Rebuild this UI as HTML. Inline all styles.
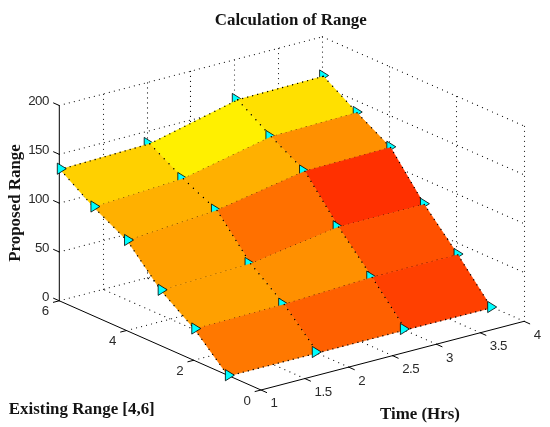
<!DOCTYPE html>
<html lang="en"><head><meta charset="utf-8"><title>Calculation of Range</title>
<style>html,body{margin:0;padding:0;background:#fff}svg{display:block}</style>
</head><body>
<svg width="550" height="427" viewBox="0 0 550 427">
<rect width="550" height="427" fill="#fff"/>
<g stroke="#111" stroke-width="1.2" fill="none" stroke-linecap="round">
<line x1="304.85" y1="378.55" x2="103.15" y2="289.35" stroke-dasharray="0.01 5.46"/>
<line x1="103.5" y1="289.35" x2="103.5" y2="94.05" stroke-dasharray="0.01 4.99"/>
<line x1="348.7" y1="367.1" x2="147" y2="277.9" stroke-dasharray="0.01 5.46"/>
<line x1="147.5" y1="277.9" x2="147.5" y2="82.6" stroke-dasharray="0.01 4.99"/>
<line x1="392.55" y1="355.65" x2="190.85" y2="266.45" stroke-dasharray="0.01 5.46"/>
<line x1="190.5" y1="266.45" x2="190.5" y2="71.15" stroke-dasharray="0.01 4.99"/>
<line x1="436.4" y1="344.2" x2="234.7" y2="255" stroke-dasharray="0.01 5.46"/>
<line x1="234.5" y1="255" x2="234.5" y2="59.7" stroke-dasharray="0.01 4.99"/>
<line x1="480.25" y1="332.75" x2="278.55" y2="243.55" stroke-dasharray="0.01 5.46"/>
<line x1="278.5" y1="243.55" x2="278.5" y2="48.25" stroke-dasharray="0.01 4.99"/>
<line x1="524.1" y1="321.3" x2="322.4" y2="232.1" stroke-dasharray="0.01 5.46"/>
<line x1="322.5" y1="232.1" x2="322.5" y2="36.8" stroke-dasharray="0.01 4.99"/>
<line x1="524.5" y1="321.3" x2="524.5" y2="126" stroke-dasharray="0.01 4.99"/>
<line x1="193.77" y1="360.27" x2="456.87" y2="291.57" stroke-dasharray="0.01 5.16"/>
<line x1="456.5" y1="291.57" x2="456.5" y2="96.27" stroke-dasharray="0.01 4.99"/>
<line x1="126.53" y1="330.53" x2="389.63" y2="261.83" stroke-dasharray="0.01 5.16"/>
<line x1="389.5" y1="261.83" x2="389.5" y2="66.53" stroke-dasharray="0.01 4.99"/>
<line x1="59.3" y1="300.8" x2="322.4" y2="232.1" stroke-dasharray="0.01 5.16"/>
<line x1="59.3" y1="251.98" x2="322.4" y2="183.28" stroke-dasharray="0.01 5.16"/>
<line x1="322.4" y1="183.28" x2="524.1" y2="272.48" stroke-dasharray="0.01 5.46"/>
<line x1="59.3" y1="203.15" x2="322.4" y2="134.45" stroke-dasharray="0.01 5.16"/>
<line x1="322.4" y1="134.45" x2="524.1" y2="223.65" stroke-dasharray="0.01 5.46"/>
<line x1="59.3" y1="154.33" x2="322.4" y2="85.63" stroke-dasharray="0.01 5.16"/>
<line x1="322.4" y1="85.63" x2="524.1" y2="174.83" stroke-dasharray="0.01 5.46"/>
<line x1="59.3" y1="105.5" x2="322.4" y2="36.8" stroke-dasharray="0.01 5.16"/>
<line x1="322.4" y1="36.8" x2="524.1" y2="126" stroke-dasharray="0.01 5.46"/>
</g>
<g stroke="#000" stroke-width="1" fill="none">
<line x1="59.3" y1="300.8" x2="59.3" y2="105.5"/>
<line x1="59.3" y1="300.8" x2="261" y2="390"/>
<line x1="261" y1="390" x2="524.1" y2="321.3"/>
<line x1="59.3" y1="300.8" x2="53.2" y2="298.1"/>
<line x1="59.3" y1="251.98" x2="53.2" y2="249.28"/>
<line x1="59.3" y1="203.15" x2="53.2" y2="200.45"/>
<line x1="59.3" y1="154.33" x2="53.2" y2="151.63"/>
<line x1="59.3" y1="105.5" x2="53.2" y2="102.8"/>
<line x1="261" y1="390" x2="254.7" y2="391.6"/>
<line x1="193.77" y1="360.27" x2="187.47" y2="361.87"/>
<line x1="126.53" y1="330.53" x2="120.23" y2="332.13"/>
<line x1="59.3" y1="300.8" x2="53" y2="302.4"/>
<line x1="261" y1="390" x2="267" y2="392.7"/>
<line x1="304.85" y1="378.55" x2="310.85" y2="381.25"/>
<line x1="348.7" y1="367.1" x2="354.7" y2="369.8"/>
<line x1="392.55" y1="355.65" x2="398.55" y2="358.35"/>
<line x1="436.4" y1="344.2" x2="442.4" y2="346.9"/>
<line x1="480.25" y1="332.75" x2="486.25" y2="335.45"/>
<line x1="524.1" y1="321.3" x2="530.1" y2="324"/>
</g>
<g font-family="'Liberation Sans', Arial, Helvetica, sans-serif" font-size="13.3" letter-spacing="-0.45" fill="#2a2a2a">
<text x="49.0" y="300.5" text-anchor="end">0</text>
<text x="49.0" y="251.68" text-anchor="end">50</text>
<text x="49.0" y="202.85" text-anchor="end">100</text>
<text x="49.0" y="154.03" text-anchor="end">150</text>
<text x="49.0" y="105.2" text-anchor="end">200</text>
<text x="250.5" y="404.6" text-anchor="end">0</text>
<text x="183.27" y="374.87" text-anchor="end">2</text>
<text x="116.03" y="345.13" text-anchor="end">4</text>
<text x="48.8" y="315.4" text-anchor="end">6</text>
<text x="270.6" y="407.4">1</text>
<text x="314.45" y="395.95">1.5</text>
<text x="358.3" y="384.5">2</text>
<text x="402.15" y="373.05">2.5</text>
<text x="446" y="361.6">3</text>
<text x="489.85" y="350.15">3.5</text>
<text x="533.7" y="338.7">4</text>
</g>
<polygon points="144.2,137.4 144.2,148.6 153.2,143" fill="#00FFFF" stroke="#000" stroke-width="0.8" stroke-linejoin="miter"/>
<polygon points="232.3,93.4 232.3,104.6 241.3,99" fill="#00FFFF" stroke="#000" stroke-width="0.8" stroke-linejoin="miter"/>
<polygon points="319.6,69.9 319.6,81.1 328.6,75.5" fill="#00FFFF" stroke="#000" stroke-width="0.8" stroke-linejoin="miter"/>
<polygon points="271.32,136.8 357.02,112.8 323.4,76.3 237.7,99.8" fill="#FFE000" stroke="#FFE000" stroke-width="0.6"/>
<polygon points="183.42,178.8 271.32,136.8 237.7,99.8 149.8,143.8" fill="#FFF000" stroke="#FFF000" stroke-width="0.6"/>
<polygon points="93.82,207.3 183.42,178.8 149.8,143.8 60.2,169.5" fill="#FFD000" stroke="#FFD000" stroke-width="0.6"/>
<g stroke="#000" stroke-width="1.4" stroke-linecap="round" fill="none">
<line x1="60.2" y1="169.5" x2="149.8" y2="143.8" stroke-dasharray="0.01 5.19"/>
<line x1="93.82" y1="207.3" x2="183.42" y2="178.8" stroke-dasharray="0.01 5.24"/>
<line x1="149.8" y1="143.8" x2="237.7" y2="99.8" stroke-dasharray="0.01 5.58"/>
<line x1="183.42" y1="178.8" x2="271.32" y2="136.8" stroke-dasharray="0.01 5.53"/>
<line x1="237.7" y1="99.8" x2="323.4" y2="76.3" stroke-dasharray="0.01 5.17"/>
<line x1="271.32" y1="136.8" x2="357.02" y2="112.8" stroke-dasharray="0.01 5.18"/>
<line x1="60.2" y1="169.5" x2="93.82" y2="207.3" stroke-dasharray="0.01 6.68"/>
<line x1="149.8" y1="143.8" x2="183.42" y2="178.8" stroke-dasharray="0.01 6.92"/>
<line x1="237.7" y1="99.8" x2="271.32" y2="136.8" stroke-dasharray="0.01 6.75"/>
<line x1="323.4" y1="76.3" x2="357.02" y2="112.8" stroke-dasharray="0.01 6.79"/>
</g>
<polygon points="177.82,172.4 177.82,183.6 186.82,178" fill="#00FFFF" stroke="#000" stroke-width="0.8" stroke-linejoin="miter"/>
<polygon points="265.92,130.4 265.92,141.6 274.92,136" fill="#00FFFF" stroke="#000" stroke-width="0.8" stroke-linejoin="miter"/>
<polygon points="353.22,106.4 353.22,117.6 362.22,112" fill="#00FFFF" stroke="#000" stroke-width="0.8" stroke-linejoin="miter"/>
<polygon points="304.93,171.3 390.63,147.6 357.02,112.8 271.32,136.8" fill="#FF9000" stroke="#FF9000" stroke-width="0.6"/>
<polygon points="217.03,210.4 304.93,171.3 271.32,136.8 183.42,178.8" fill="#FFB000" stroke="#FFB000" stroke-width="0.6"/>
<polygon points="127.43,240.8 217.03,210.4 183.42,178.8 93.82,207.3" fill="#FFB000" stroke="#FFB000" stroke-width="0.6"/>
<g stroke="#000" stroke-width="1.4" stroke-linecap="round" fill="none">
<line x1="127.43" y1="240.8" x2="217.03" y2="210.4" stroke-dasharray="0.01 5.27"/>
<line x1="217.03" y1="210.4" x2="304.93" y2="171.3" stroke-dasharray="0.01 5.46"/>
<line x1="304.93" y1="171.3" x2="390.63" y2="147.6" stroke-dasharray="0.01 5.18"/>
<line x1="93.82" y1="207.3" x2="127.43" y2="240.8" stroke-dasharray="0.01 7.05"/>
<line x1="183.42" y1="178.8" x2="217.03" y2="210.4" stroke-dasharray="0.01 6.85"/>
<line x1="271.32" y1="136.8" x2="304.93" y2="171.3" stroke-dasharray="0.01 6.97"/>
<line x1="357.02" y1="112.8" x2="390.63" y2="147.6" stroke-dasharray="0.01 6.94"/>
</g>
<polygon points="211.43,204 211.43,215.2 220.43,209.6" fill="#00FFFF" stroke="#000" stroke-width="0.8" stroke-linejoin="miter"/>
<polygon points="299.53,164.9 299.53,176.1 308.53,170.5" fill="#00FFFF" stroke="#000" stroke-width="0.8" stroke-linejoin="miter"/>
<polygon points="386.83,141.2 386.83,152.4 395.83,146.8" fill="#00FFFF" stroke="#000" stroke-width="0.8" stroke-linejoin="miter"/>
<polygon points="338.55,227.1 424.25,204.5 390.63,147.6 304.93,171.3" fill="#FF3000" stroke="#FF3000" stroke-width="0.6"/>
<polygon points="250.65,263.8 338.55,227.1 304.93,171.3 217.03,210.4" fill="#FF7000" stroke="#FF7000" stroke-width="0.6"/>
<polygon points="161.05,290.6 250.65,263.8 217.03,210.4 127.43,240.8" fill="#FFA000" stroke="#FFA000" stroke-width="0.6"/>
<g stroke="#000" stroke-width="1.4" stroke-linecap="round" fill="none">
<line x1="161.05" y1="290.6" x2="250.65" y2="263.8" stroke-dasharray="0.01 5.21"/>
<line x1="250.65" y1="263.8" x2="338.55" y2="227.1" stroke-dasharray="0.01 5.41"/>
<line x1="338.55" y1="227.1" x2="424.25" y2="204.5" stroke-dasharray="0.01 5.16"/>
<line x1="127.43" y1="240.8" x2="161.05" y2="290.6" stroke-dasharray="0.01 6.02"/>
<line x1="217.03" y1="210.4" x2="250.65" y2="263.8" stroke-dasharray="0.01 5.9"/>
<line x1="304.93" y1="171.3" x2="338.55" y2="227.1" stroke-dasharray="0.01 5.83"/>
<line x1="390.63" y1="147.6" x2="424.25" y2="204.5" stroke-dasharray="0.01 5.8"/>
</g>
<polygon points="245.05,257.4 245.05,268.6 254.05,263" fill="#00FFFF" stroke="#000" stroke-width="0.8" stroke-linejoin="miter"/>
<polygon points="333.15,220.7 333.15,231.9 342.15,226.3" fill="#00FFFF" stroke="#000" stroke-width="0.8" stroke-linejoin="miter"/>
<polygon points="420.45,198.1 420.45,209.3 429.45,203.7" fill="#00FFFF" stroke="#000" stroke-width="0.8" stroke-linejoin="miter"/>
<polygon points="372.17,277.4 457.87,254.8 424.25,204.5 338.55,227.1" fill="#FF5000" stroke="#FF5000" stroke-width="0.6"/>
<polygon points="284.27,304.5 372.17,277.4 338.55,227.1 250.65,263.8" fill="#FF9000" stroke="#FF9000" stroke-width="0.6"/>
<polygon points="194.67,329.3 284.27,304.5 250.65,263.8 161.05,290.6" fill="#FFA000" stroke="#FFA000" stroke-width="0.6"/>
<g stroke="#000" stroke-width="1.4" stroke-linecap="round" fill="none">
<line x1="194.67" y1="329.3" x2="284.27" y2="304.5" stroke-dasharray="0.01 5.18"/>
<line x1="284.27" y1="304.5" x2="372.17" y2="277.4" stroke-dasharray="0.01 5.22"/>
<line x1="372.17" y1="277.4" x2="457.87" y2="254.8" stroke-dasharray="0.01 5.16"/>
<line x1="161.05" y1="290.6" x2="194.67" y2="329.3" stroke-dasharray="0.01 6.61"/>
<line x1="250.65" y1="263.8" x2="284.27" y2="304.5" stroke-dasharray="0.01 6.48"/>
<line x1="338.55" y1="227.1" x2="372.17" y2="277.4" stroke-dasharray="0.01 6"/>
<line x1="424.25" y1="204.5" x2="457.87" y2="254.8" stroke-dasharray="0.01 6"/>
</g>
<polygon points="278.67,298.1 278.67,309.3 287.67,303.7" fill="#00FFFF" stroke="#000" stroke-width="0.8" stroke-linejoin="miter"/>
<polygon points="366.77,271 366.77,282.2 375.77,276.6" fill="#00FFFF" stroke="#000" stroke-width="0.8" stroke-linejoin="miter"/>
<polygon points="454.07,248.4 454.07,259.6 463.07,254" fill="#00FFFF" stroke="#000" stroke-width="0.8" stroke-linejoin="miter"/>
<polygon points="405.78,329.8 491.48,307.8 457.87,254.8 372.17,277.4" fill="#FF4000" stroke="#FF4000" stroke-width="0.6"/>
<polygon points="317.88,352.8 405.78,329.8 372.17,277.4 284.27,304.5" fill="#FF6000" stroke="#FF6000" stroke-width="0.6"/>
<polygon points="228.28,376 317.88,352.8 284.27,304.5 194.67,329.3" fill="#FF7800" stroke="#FF7800" stroke-width="0.6"/>
<g stroke="#000" stroke-width="1.4" stroke-linecap="round" fill="none">
<line x1="228.28" y1="376" x2="317.88" y2="352.8" stroke-dasharray="0.01 5.15"/>
<line x1="317.88" y1="352.8" x2="405.78" y2="329.8" stroke-dasharray="0.01 5.16"/>
<line x1="405.78" y1="329.8" x2="491.48" y2="307.8" stroke-dasharray="0.01 5.15"/>
<line x1="194.67" y1="329.3" x2="228.28" y2="376" stroke-dasharray="0.01 6.15"/>
<line x1="284.27" y1="304.5" x2="317.88" y2="352.8" stroke-dasharray="0.01 6.08"/>
<line x1="372.17" y1="277.4" x2="405.78" y2="329.8" stroke-dasharray="0.01 5.93"/>
<line x1="457.87" y1="254.8" x2="491.48" y2="307.8" stroke-dasharray="0.01 5.91"/>
</g>
<polygon points="57.3,163.1 57.3,174.3 66.3,168.7" fill="#00FFFF" stroke="#000" stroke-width="0.8" stroke-linejoin="miter"/>
<polygon points="90.92,200.9 90.92,212.1 99.92,206.5" fill="#00FFFF" stroke="#000" stroke-width="0.8" stroke-linejoin="miter"/>
<polygon points="124.53,234.4 124.53,245.6 133.53,240" fill="#00FFFF" stroke="#000" stroke-width="0.8" stroke-linejoin="miter"/>
<polygon points="158.15,284.2 158.15,295.4 167.15,289.8" fill="#00FFFF" stroke="#000" stroke-width="0.8" stroke-linejoin="miter"/>
<polygon points="191.77,322.9 191.77,334.1 200.77,328.5" fill="#00FFFF" stroke="#000" stroke-width="0.8" stroke-linejoin="miter"/>
<polygon points="225.38,369.6 225.38,380.8 234.38,375.2" fill="#00FFFF" stroke="#000" stroke-width="0.8" stroke-linejoin="miter"/>
<polygon points="312.28,346.4 312.28,357.6 321.28,352" fill="#00FFFF" stroke="#000" stroke-width="0.8" stroke-linejoin="miter"/>
<polygon points="400.38,323.4 400.38,334.6 409.38,329" fill="#00FFFF" stroke="#000" stroke-width="0.8" stroke-linejoin="miter"/>
<polygon points="487.68,301.4 487.68,312.6 496.68,307" fill="#00FFFF" stroke="#000" stroke-width="0.8" stroke-linejoin="miter"/>
<g font-family="'Liberation Serif', 'Times New Roman', Times, serif" font-weight="bold" font-size="16.9" fill="#141414">
<text x="290.8" y="24.9" text-anchor="middle">Calculation of Range</text>
<text x="8.8" y="414.4">Existing Range [4,6]</text>
<text x="380" y="419">Time (Hrs)</text>
<text transform="translate(20.2,203) rotate(-90)" text-anchor="middle">Proposed Range</text>
</g>
</svg>
</body></html>
